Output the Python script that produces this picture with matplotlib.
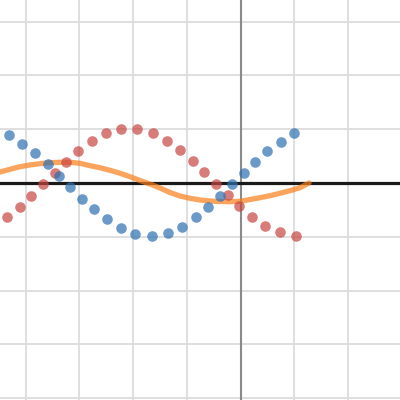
import matplotlib
matplotlib.use("Agg")
import matplotlib.pyplot as plt

# blue points
blue_x = [-4.315, -4.06, -3.82, -3.59, -3.37, -3.17, -2.95, -2.72, -2.49, -2.23, -1.96, -1.65,
          -1.35, -1.09, -0.83, -0.60, -0.38, -0.16, 0.06, 0.27, 0.49, 0.74, 1.00]
blue_y = [0.89, 0.73, 0.55, 0.35, 0.13, -0.08, -0.29, -0.49, -0.67, -0.84, -0.95, -0.99,
          -0.93, -0.81, -0.64, -0.45, -0.24, -0.02, 0.19, 0.39, 0.59, 0.77, 0.92]

# red points
red_x = [-4.35, -4.11, -3.89, -3.68, -3.46, -3.24, -3.02, -2.77, -2.51, -2.22, -1.93, -1.63,
         -1.37, -1.12, -0.89, -0.68, -0.46, -0.24, -0.03, 0.21, 0.45, 0.73, 1.02]
red_y = [-0.63, -0.45, -0.24, -0.02, 0.19, 0.39, 0.60, 0.78, 0.92, 1.01, 1.01, 0.93,
         0.78, 0.61, 0.40, 0.20, -0.01, -0.22, -0.43, -0.63, -0.80, -0.92, -0.98]

# orange curve
orange_x = [-4.474, -4.288, -4.102, -3.916, -3.731, -3.545, -3.359, -3.173, -2.987, -2.801,
            -2.615, -2.429, -2.244, -2.058, -1.872, -1.686, -1.500, -1.314, -1.128, -0.942,
            -0.756, -0.571, -0.385, -0.199, -0.013, 0.173, 0.359, 0.545, 0.730, 0.916,
            1.102, 1.269]
orange_y = [0.204, 0.255, 0.303, 0.335, 0.359, 0.377, 0.385, 0.385, 0.366, 0.322,
            0.284, 0.236, 0.181, 0.117, 0.046, -0.019, -0.093, -0.177, -0.242, -0.284,
            -0.316, -0.335, -0.344, -0.348, -0.340, -0.307, -0.273, -0.236, -0.191, -0.143,
            -0.087, 0.0]

fig = plt.figure(figsize=(4, 4), dpi=100)
ax = fig.add_axes([0, 0, 1, 1])

ax.set_xlim(-4.474, 2.961)
ax.set_ylim(-4.033, 3.401)
ax.set_xticks(range(-4, 3))
ax.set_yticks(range(-4, 4))
ax.grid(True, color="#dcdcdc", linewidth=1.3)
ax.set_axisbelow(True)
ax.tick_params(length=0, labelbottom=False, labelleft=False)
for s in ax.spines.values():
    s.set_visible(False)

ax.axvline(0, color="#8a8a8a", linewidth=1.5, zorder=1)
ax.axhline(0, color="#1a1a1a", linewidth=2.3, zorder=2)

ax.plot(orange_x, orange_y, color="#fa7e19", alpha=0.7, linewidth=3.8,
        solid_capstyle="round", solid_joinstyle="round", zorder=3)
ax.scatter(red_x, red_y, s=58, color="#c74440", alpha=0.7, linewidths=0, zorder=4)
ax.scatter(blue_x, blue_y, s=58, color="#2d70b3", alpha=0.7, linewidths=0, zorder=5)

fig.savefig("out.png", dpi=100)
